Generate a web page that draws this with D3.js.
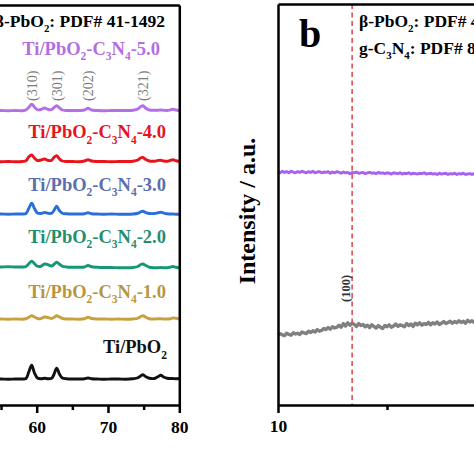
<!DOCTYPE html>
<html><head><meta charset="utf-8">
<script src="https://cdn.jsdelivr.net/npm/d3@7/dist/d3.min.js"></script>
<style>html,body{margin:0;padding:0;background:#fff;}svg{display:block;}</style>
</head><body>
<svg id="c" width="474" height="474"></svg>
<script>
// ---------- DATA ----------
// Panel a (left): 2θ grid (degrees) and relative intensities (a.u.)
const twoThetaA = [54,55,56,57,58,58.5,58.9,59.3,59.7,60.1,60.6,61.1,61.6,62.1,62.4,62.8,63.2,63.6,64.2,65,66,66.7,67.2,67.7,68.5,69.5,70.5,71.5,72.5,73.5,74.2,74.6,74.9,75.3,75.8,76.5,77.0,77.4,77.8,78.3,78.7,79.1,79.5,80];
const seriesNames = ["Ti/PbO_2","Ti/PbO_2-C_3N_4-1.0","Ti/PbO_2-C_3N_4-2.0","Ti/PbO_2-C_3N_4-3.0","Ti/PbO_2-C_3N_4-4.0","Ti/PbO_2-C_3N_4-5.0"];
const iPbO2 = [0,1,0,1,1, 3,30,56,24,5, 2,4,2,4,18, 44,20,5,2,1, 1,2,5,2,1, 0,1,1,0,2, 6,14,18,10,4, 3,10,16,9,4, 3,3,2,3];
const iCN10 = [0,1,0,1,0, 2,8,14,9,3, 3,9,7,3,7, 14,9,3,1,1, 0,2,8,3,1, 1,0,1,0,1, 4,11,14,8,2, 1,2,2,1,1, 2,5,4,1];
const iCN20 = [1,1,2,1,1, 3,14,24,14,4, 4,13,10,5,11, 20,12,4,1,0, 0,1,7,2,0, -1,-1,-2,-2,-1, 3,11,13,7,0, -2,-2,-1,-2,-2, 0,3,0,-2];
const iCN30 = [0,1,0,1,1, 3,24,44,22,5, 3,7,4,4,14, 32,14,4,2,1, 1,2,6,2,1, 0,1,0,0,1, 4,10,12,7,3, 3,6,8,5,2, 1,1,0,0];
const iCN40 = [1,0,1,0,1, 4,20,27,14,5, 7,11,5,6,17, 24,11,3,1,1, 0,3,8,3,1, 1,0,1,1,2, 7,16,17,9,3, 2,5,6,3,2, 5,8,4,1];
const iCN50 = [0,1,0,1,0, 3,14,26,14,4, 5,11,5,5,12, 20,11,3,1,1, 1,3,10,3,1, 0,1,1,1,2, 7,17,20,10,3, 2,2,3,2,1, 3,6,3,1];
const stackOffsets = [103, 343, 551, 763, 973, 1177];
const hklLabels = ["(310)","(301)","(202)","(321)"];
const hklPos = [59.3, 62.8, 67.2, 74.9];
const ticksA = [60,70,80];
const minorTicksA = [55,65,75];

// Panel b (right)
const twoThetaB = [10.0,10.1,10.2,10.3,10.4,10.5,10.6,10.7,10.8,10.9,11.0,11.1,11.2,11.3,11.4,11.5,11.6,11.7,11.8,11.9,12.0,12.1,12.2,12.3,12.4,12.5,12.6,12.7,12.8,12.9,13.0,13.1,13.2,13.3,13.4,13.5,13.6,13.7,13.8,13.9,14.0,14.1,14.2,14.3,14.4,14.5,14.6,14.7,14.8,14.9,15.0,15.1,15.2,15.3,15.4,15.5,15.6,15.7,15.8,15.9,16.0,16.1,16.2,16.3,16.4,16.5,16.6,16.7,16.8,16.9,17.0,17.1,17.2,17.3,17.4,17.5,17.6,17.7,17.8,17.9,18.0,18.1,18.2,18.3,18.4,18.5,18.6,18.7,18.8,18.9,19.0,19.1,19.2,19.3,19.4,19.5];
const iB_purple = [58.2,57.9,58.3,58.0,58.2,57.9,58.3,58.1,57.9,58.2,
58.0,58.3,58.1,57.9,58.2,58.0,58.3,57.9,58.1,58.2,
57.9,58.1,58.0,58.2,57.8,58.1,57.9,58.2,58.0,57.8,
58.1,57.9,58.0,57.7,58.0,57.9,58.1,57.8,57.9,58.0,
57.7,57.9,58.0,57.8,57.9,57.7,58.0,57.8,57.9,57.7,
57.9,57.8,57.6,57.9,57.8,57.7,57.9,57.6,57.8,57.7,
57.9,57.6,57.8,57.7,57.6,57.8,57.7,57.9,57.6,57.7,
57.8,57.6,57.7,57.5,57.8,57.6,57.7,57.8,57.5,57.7,
57.6,57.8,57.5,57.7,57.6,57.8,57.5,57.6,57.7,57.5,
57.7,57.6,57.5,57.7,57.6,57.5];
const iB_gray = [17.4,17.8,17.5,17.3,17.9,17.6,17.4,18.0,17.7,17.9,
17.6,18.2,18.0,17.8,18.4,18.1,18.5,18.2,18.8,18.4,
18.6,19.1,18.8,19.3,18.9,19.5,19.2,19.4,19.9,19.4,
20.3,19.7,20.5,19.9,20.4,20.1,19.6,20.3,19.8,20.1,
19.5,19.9,19.3,20.0,19.6,19.2,19.8,19.4,19.1,19.8,
19.5,20.0,19.4,19.7,20.2,19.6,20.0,19.8,19.5,20.3,
19.8,20.2,19.6,20.4,20.0,20.5,19.9,20.3,20.1,20.6,
20.0,20.5,20.2,20.7,20.1,20.4,20.8,20.3,20.6,20.9,
20.4,20.8,20.5,21.0,20.6,20.9,20.4,21.1,20.7,21.0,
20.6,21.2,20.8,21.0,21.3,20.9];
const gCN100Pos = 13.4;
const ticksB = [10];
const minorTicksB = [15];

// ---------- STYLE ----------
const FONT = "'Liberation Serif','Times New Roman',serif";
const lineColors = ["#111111","#c9a03e","#17977a","#2b6ed9","#e8141c","#b36ee8"];
const labelColors = ["#111111","#b8963e","#1f8f6f","#5a6fae","#e8141c","#b46ee0"];

const svg = d3.select("#c");
svg.append("rect").attr("width",474).attr("height",474).attr("fill","#fff");

function rich(t, str, fs){
  const sub = fs*0.62, shift = fs*0.3;
  let cur = 0;
  str.split(/(_\d)/).forEach(p=>{
    if(!p) return;
    const isSub = p[0]==="_";
    const target = isSub ? shift : 0;
    const ts = t.append("tspan").attr("dy", target-cur).text(isSub ? p.slice(1) : p);
    if(isSub) ts.attr("font-size", sub);
    cur = target;
  });
  return t;
}
function styleAxis(g, w){
  g.selectAll("path,line").attr("stroke","#000").attr("stroke-width",w);
  g.selectAll("text").attr("font-family",FONT).attr("font-weight","bold").attr("font-size",17.5).attr("fill","#000");
}

// ---------- PANEL A ----------
const xA = d3.scaleLinear().domain([50,80]).range([-34.6,179.3]);
const yA = d3.scaleLinear().domain([0,1600]).range([405,5]);
const defs = svg.append("defs");
defs.append("clipPath").attr("id","clipA").append("rect")
  .attr("x",xA(50)).attr("y",yA(1600)).attr("width",xA(80)-xA(50)).attr("height",yA(0)-yA(1600));

const seriesA = [iPbO2,iCN10,iCN20,iCN30,iCN40,iCN50];
const lineA = d3.line().curve(d3.curveCatmullRom.alpha(0.5));
const gA = svg.append("g").attr("clip-path","url(#clipA)");
seriesA.forEach((vals,i)=>{
  gA.append("path")
    .attr("d", lineA(twoThetaA.map((t,j)=>[xA(t), yA(vals[j]+stackOffsets[i])])))
    .attr("fill","none").attr("stroke",lineColors[i]).attr("stroke-width",2.9)
    .attr("stroke-linejoin","round");
});

// series labels
const labelRight = [167,166,166,166,166,160];
const labelGap = [26,21.5,24.5,23.5,23.5,56];
seriesNames.forEach((n,i)=>{
  const t = svg.append("text").attr("x",labelRight[i]).attr("y",yA(stackOffsets[i])-labelGap[i])
    .attr("text-anchor","end").attr("font-family",FONT).attr("font-weight","bold")
    .attr("font-size",18.5).attr("fill",labelColors[i]);
  rich(t,n,18.5);
});
// hkl labels
hklLabels.forEach((h,i)=>{
  svg.append("text").attr("transform",`translate(${xA(hklPos[i])},101) rotate(-90)`)
    .attr("dy","0.35em").attr("font-family",FONT).attr("font-size",14)
    .attr("fill","#7c7c7c").text(h);
});
// title
rich(svg.append("text").attr("x",165).attr("y",27).attr("text-anchor","end")
  .attr("font-family",FONT).attr("font-weight","bold").attr("font-size",17.5).attr("fill","#000"),
  "β-PbO_2: PDF# 41-1492",17.5);

// axes / frame A
svg.append("g").attr("transform","translate(0,405)")
  .call(d3.axisBottom(xA).tickValues(ticksA).tickSize(8).tickSizeOuter(0).tickPadding(8))
  .call(g=>styleAxis(g,2.5));
svg.append("g").attr("transform","translate(0,405)")
  .call(d3.axisBottom(xA).tickValues(minorTicksA).tickSize(5).tickFormat(""))
  .call(g=>g.select(".domain").remove()).call(g=>styleAxis(g,2.5));
svg.append("g").attr("transform",`translate(0,${yA(1600)})`)
  .call(d3.axisTop(xA).tickValues([]).tickSizeOuter(0)).call(g=>styleAxis(g,2.5));
svg.append("g").attr("transform",`translate(${xA(80)},0)`)
  .call(d3.axisRight(yA).tickValues([]).tickSizeOuter(0)).call(g=>styleAxis(g,2.5));

// ---------- PANEL B ----------
const xB = d3.scaleLinear().domain([10,20]).range([278,496]);
const yB = d3.scaleLinear().domain([0,100]).range([405,4]);
const lineB = d3.line();
svg.append("path").attr("d", lineB(twoThetaB.map((t,j)=>[xB(t), yB(iB_gray[j])])))
  .attr("fill","none").attr("stroke","#808080").attr("stroke-width",3.4).attr("stroke-linejoin","round");
svg.append("path").attr("d", lineB(twoThetaB.map((t,j)=>[xB(t), yB(iB_purple[j])])))
  .attr("fill","none").attr("stroke","#a862f0").attr("stroke-width",2.9).attr("stroke-linejoin","round");

svg.append("line").attr("x1",xB(gCN100Pos)).attr("x2",xB(gCN100Pos)).attr("y1",yB(100)).attr("y2",yB(0))
  .attr("stroke","#d9454a").attr("stroke-width",1.5).attr("stroke-dasharray","5,3.5");
svg.append("text").attr("transform",`translate(${xB(gCN100Pos)-6},302) rotate(-90)`)
  .attr("dy","0.35em").attr("font-family",FONT).attr("font-weight","bold").attr("font-size",12.5)
  .attr("fill","#333").text("(100)");

svg.append("g").attr("transform","translate(0,405)")
  .call(d3.axisBottom(xB).tickValues(ticksB).tickSize(8).tickSizeOuter(0).tickPadding(7))
  .call(g=>styleAxis(g,2.5));
svg.append("g").attr("transform","translate(0,405)")
  .call(d3.axisBottom(xB).tickValues(minorTicksB).tickSize(5).tickFormat(""))
  .call(g=>g.select(".domain").remove()).call(g=>styleAxis(g,2.5));
svg.append("g").attr("transform",`translate(${xB(10)},0)`)
  .call(d3.axisLeft(yB).tickValues([]).tickSizeOuter(0)).call(g=>styleAxis(g,2.5));
svg.append("g").attr("transform",`translate(0,${yB(100)})`)
  .call(d3.axisTop(xB).tickValues([]).tickSizeOuter(0)).call(g=>styleAxis(g,2.5));

svg.append("text").attr("x",310).attr("y",47).attr("text-anchor","middle")
  .attr("font-family",FONT).attr("font-weight","bold").attr("font-size",40).attr("fill","#000").text("b");
rich(svg.append("text").attr("x",359).attr("y",27).attr("font-family",FONT).attr("font-weight","bold")
  .attr("font-size",17.5).attr("fill","#000"),"β-PbO_2: PDF# 41-1492",17.5);
rich(svg.append("text").attr("x",359).attr("y",54).attr("font-family",FONT).attr("font-weight","bold")
  .attr("font-size",17.5).attr("fill","#000"),"g-C_3N_4: PDF# 87-1526",17.5);
svg.append("text").attr("transform","translate(255,211) rotate(-90)").attr("text-anchor","middle")
  .attr("font-family",FONT).attr("font-weight","bold").attr("font-size",24).attr("fill","#000")
  .text("Intensity / a.u.");
</script>
</body></html>
